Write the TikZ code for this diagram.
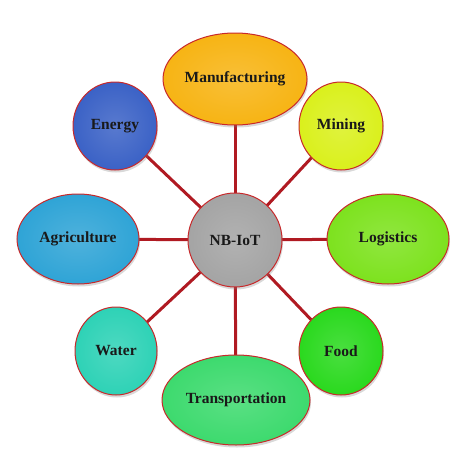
\documentclass[tikz,border=0pt]{standalone}
\usepackage{fontspec}
\setmainfont{Liberation Serif}
\usetikzlibrary{shapes,shadows,backgrounds,positioning}

\definecolor{linkred}{HTML}{B01A22}
\definecolor{rimred}{HTML}{C8282A}
\definecolor{cManuf}{HTML}{F7B414}
\definecolor{cMining}{HTML}{DAF01C}
\definecolor{cLogist}{HTML}{7DE21E}
\definecolor{cFood}{HTML}{2AD91E}
\definecolor{cTransp}{HTML}{3DDA6E}
\definecolor{cWater}{HTML}{2ED2B6}
\definecolor{cAgri}{HTML}{2FA4D6}
\definecolor{cEnergy}{HTML}{3B62C6}
\definecolor{cHub}{HTML}{A4A4A4}

\tikzset{
  sector/.style={ellipse, draw=rimred, line width=1pt, inner sep=0pt,
    inner color=#1!85!white, outer color=#1,
    drop shadow={opacity=.3, shadow xshift=1pt, shadow yshift=-2.5pt},
    font=\bfseries\fontsize{15.5}{18}\selectfont, text=black!90},
  link/.style={draw=linkred, line width=3pt}
}

\begin{document}
\begin{tikzpicture}[x=1pt, y=-1pt]
    \useasboundingbox (0,0) rectangle (474,474);
    % hub
    \node [circle, minimum size=94pt, sector=cHub] (hub) at (235,240) {NB-IoT};
    % sectors
    \node [sector=cManuf,  minimum width=144pt, minimum height=92pt] (manuf)  at (235,79)  {Manufacturing};
    \node [sector=cMining, minimum width=84pt,  minimum height=88pt] (mining) at (341,126) {Mining};
    \node [sector=cLogist, minimum width=122pt, minimum height=90pt] (logist) at (388,239) {Logistics};
    \node [sector=cFood,   minimum width=84pt,  minimum height=88pt] (food)   at (341,351) {Food};
    \node [sector=cTransp, minimum width=148pt, minimum height=90pt] (transp) at (236,400) {Transportation};
    \node [sector=cWater,  minimum width=82pt,  minimum height=88pt] (water)  at (116,351) {Water};
    \node [sector=cAgri,   minimum width=122pt, minimum height=90pt] (agri)   at (78,239)  {Agriculture};
    \node [sector=cEnergy, minimum width=84pt,  minimum height=88pt] (energy) at (115,126) {Energy};
    % links
    \begin{scope}[on background layer]
        \draw [link] (hub.center) -- (manuf.center);
        \draw [link] (hub.center) -- (mining.center);
        \draw [link] (hub.center) -- (logist.center);
        \draw [link] (hub.center) -- (food.center);
        \draw [link] (hub.center) -- (transp.center);
        \draw [link] (hub.center) -- (water.center);
        \draw [link] (hub.center) -- (agri.center);
        \draw [link] (hub.center) -- (energy.center);
    \end{scope}
\end{tikzpicture}
\end{document}
